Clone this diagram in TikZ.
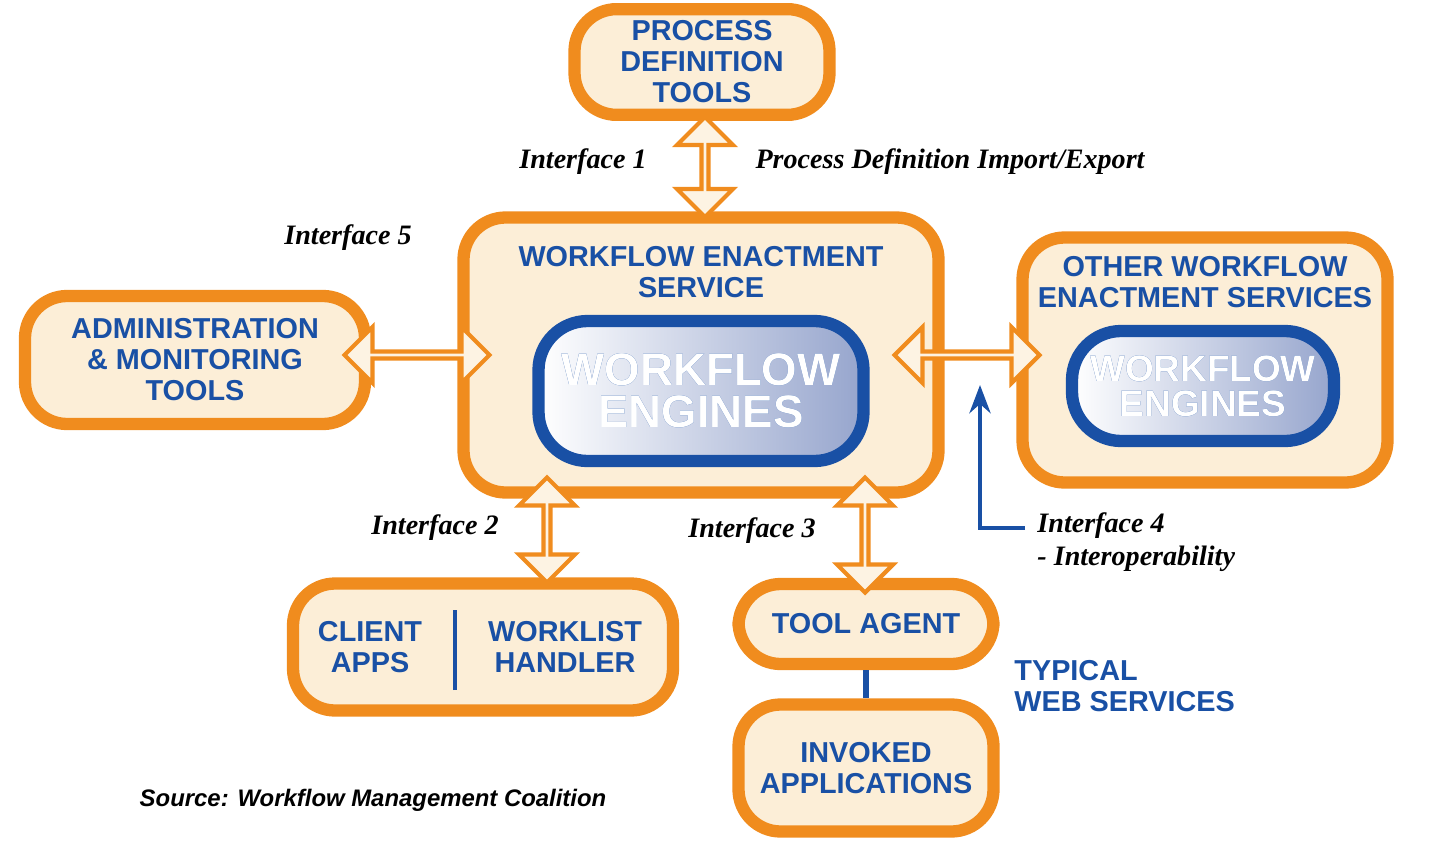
\documentclass[tikz,border=0pt]{standalone}
\usepackage{fontspec}
\setmainfont{Liberation Sans}
\newfontfamily\labfont{Liberation Serif}
\usepackage[outline]{contour}
\contourlength{1pt}
\usetikzlibrary{arrows.meta,positioning,shapes.arrows}
\definecolor{wforange}{RGB}{240,140,30}
\definecolor{wfcream}{RGB}{252,238,215}
\definecolor{wfblue}{RGB}{25,80,165}
\definecolor{wfgrey}{RGB}{150,165,205}
\tikzset{
    box/.style={
        draw=wforange, fill=wfcream, rounded corners=12pt, line width=3.5pt,
        align=center, text=wfblue, font=\bfseries\fontsize{8.2}{8.8}\selectfont
    },
    engine/.style={
        draw=wfblue, rounded corners=14pt, line width=3.5pt,
        left color=white, right color=wfgrey, align=center,
        font=\bfseries\fontsize{13}{12}\selectfont
    },
    link/.style={
        double arrow, draw=wforange, fill=wfcream!70!white, line width=1.2pt,
        double arrow head extend=0.15cm, minimum width=0.56cm, inner sep=0pt
    },
    iface/.style={font=\labfont\bfseries\itshape\fontsize{8}{9.5}\selectfont, align=left}
}
\newcommand{\engtext}[1]{\textcolor{white}{\contour{wfblue}{#1}}}

\begin{document}
\begin{tikzpicture}
\useasboundingbox (0,0) rectangle (14.29,8.42);

% Boxes
\node[box, minimum width=2.55cm, minimum height=1.05cm] (pdt) at (7.02,7.80) {PROCESS\\DEFINITION\\TOOLS};
\node[box, minimum width=4.75cm, minimum height=2.75cm] (wes) at (7.01,4.87) {};
\node[text=wfblue, font=\bfseries\fontsize{8.2}{8.8}\selectfont, align=center] (westxt) at (7.01,5.70) {WORKFLOW ENACTMENT\\SERVICE};
\node[engine, minimum width=3.25cm, minimum height=1.4cm] (eng) at (7.01,4.51) {\engtext{WORKFLOW}\\\engtext{ENGINES}};
\node[box, minimum width=3.4cm, minimum height=1.28cm] (adm) at (1.95,4.82) {ADMINISTRATION\\\& MONITORING\\TOOLS};
\node[box, minimum width=3.65cm, minimum height=2.45cm] (owes) at (12.05,4.82) {};
\node[text=wfblue, font=\bfseries\fontsize{8.2}{8.8}\selectfont, align=center] (owestxt) at (12.05,5.60) {OTHER WORKFLOW\\ENACTMENT SERVICES};
\node[engine, minimum width=2.62cm, minimum height=1.1cm, font=\bfseries\fontsize{10.5}{10}\selectfont] (oeng) at (12.03,4.56) {\engtext{WORKFLOW}\\\engtext{ENGINES}};
\node[box, minimum width=3.8cm, minimum height=1.27cm] (cli) at (4.83,1.95) {};
\node[text=wfblue, font=\bfseries\fontsize{8.2}{8.8}\selectfont, align=center] (clitxt) at (3.70,1.95) {CLIENT\\APPS};
\node[text=wfblue, font=\bfseries\fontsize{8.2}{8.8}\selectfont, align=center] (wltxt) at (5.65,1.95) {WORKLIST\\HANDLER};
\draw[wfblue, line width=1pt] (4.55,1.52) -- (4.55,2.32);
\node[box, minimum width=2.55cm, minimum height=0.8cm] (ta) at (8.66,2.18) {TOOL AGENT};
\node[box, minimum width=2.55cm, minimum height=1.27cm] (inv) at (8.66,0.74) {INVOKED\\APPLICATIONS};
\draw[wfblue, line width=1.5pt] (ta) -- (inv);

% Interface arrows
\node[link, rotate=90, minimum height=1.0cm] (a1) at (7.05,6.75) {};
\node[link, minimum height=1.45cm] (a5) at (4.17,4.87) {};
\node[link, minimum height=1.45cm] (a4) at (9.67,4.87) {};
\node[link, rotate=90, minimum height=1.05cm] (a2) at (5.47,3.12) {};
\node[link, rotate=90, minimum height=1.15cm] (a3) at (8.65,3.07) {};

% Labels
\node[iface] (i1) at (5.83,6.80) {Interface 1};
\node[iface] (pie) at (9.50,6.80) {Process Definition Import/Export};
\node[iface] (i5) at (3.48,6.04) {Interface 5};
\node[iface] (i2) at (4.35,3.14) {Interface 2};
\node[iface] (i3) at (7.52,3.11) {Interface 3};
\node[iface, anchor=west] (i4) at (10.25,3.00) {Interface 4\\- Interoperability};
\coordinate (i4c) at (9.80,3.14);
\draw[wfblue, line width=1.3pt, -{Stealth[length=8pt]}] (i4.west |- i4c) -- (i4c) -- (9.80,4.57);
\node[text=wfblue, font=\bfseries\fontsize{8.2}{8.8}\selectfont, align=left, anchor=west] (tws) at (10.02,1.56) {TYPICAL\\WEB SERVICES};
\node[font=\bfseries\itshape\fontsize{6.8}{8}\selectfont] (src) at (3.73,0.42) {Source: Workflow Management Coalition};

\end{tikzpicture}
\end{document}
